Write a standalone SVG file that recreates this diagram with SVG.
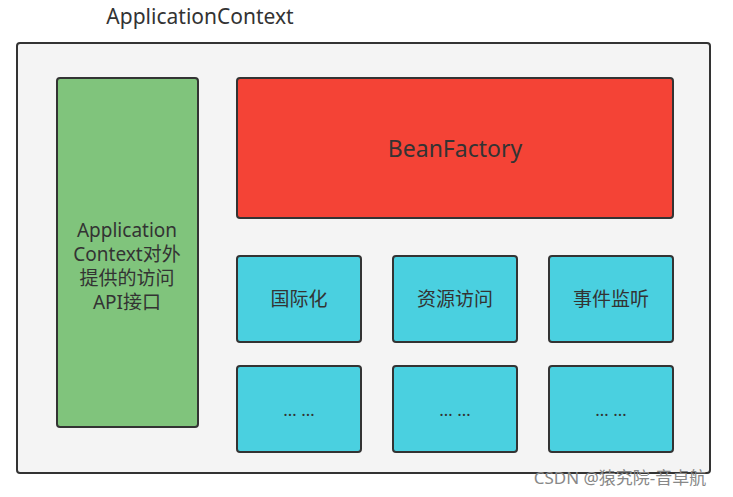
<svg xmlns="http://www.w3.org/2000/svg" width="733" height="497" viewBox="0 0 733 497">
<style>
text{font-family:"Noto Sans","Noto Sans CJK SC",sans-serif;fill:#333;text-anchor:middle}
.b{stroke:#333;stroke-width:2}
.c{fill:#4ad0e0}
</style>
<rect width="733" height="497" fill="#fff"/>
<text x="200" y="24" font-size="21">ApplicationContext</text>
<g id="outer"><rect class="b" x="17" y="43" width="693" height="430" rx="3" fill="#f4f4f4"/></g>
<g id="api"><rect class="b" x="57" y="78" width="141" height="349" rx="3" fill="#80c47c"/>
<text font-size="19" x="127" y="237">Application</text>
<text font-size="19" x="127" y="261">Context对外</text>
<text font-size="19" x="127" y="285">提供的访问</text>
<text font-size="19" x="127" y="309">API接口</text></g>
<g id="bf"><rect class="b" x="237" y="78" width="436" height="140" rx="3" fill="#f44336"/>
<text font-size="23" x="455" y="157">BeanFactory</text></g>
<g id="n1"><rect class="b c" x="237" y="256" width="124" height="86" rx="3"/><text font-size="19" x="299" y="306">国际化</text></g>
<g id="n2"><rect class="b c" x="393" y="256" width="124" height="86" rx="3"/><text font-size="19" x="455" y="306">资源访问</text></g>
<g id="n3"><rect class="b c" x="549" y="256" width="124" height="86" rx="3"/><text font-size="19" x="611" y="306">事件监听</text></g>
<g id="n4"><rect class="b c" x="237" y="366" width="124" height="86" rx="3"/><text font-size="17" x="299" y="416">… …</text></g>
<g id="n5"><rect class="b c" x="393" y="366" width="124" height="86" rx="3"/><text font-size="17" x="455" y="416">… …</text></g>
<g id="n6"><rect class="b c" x="549" y="366" width="124" height="86" rx="3"/><text font-size="17" x="611" y="416">… …</text></g>
<g id="connectors"></g>
<text x="620" y="484" font-size="17" style="fill:#888">CSDN @猿究院-音卓航</text>
</svg>
